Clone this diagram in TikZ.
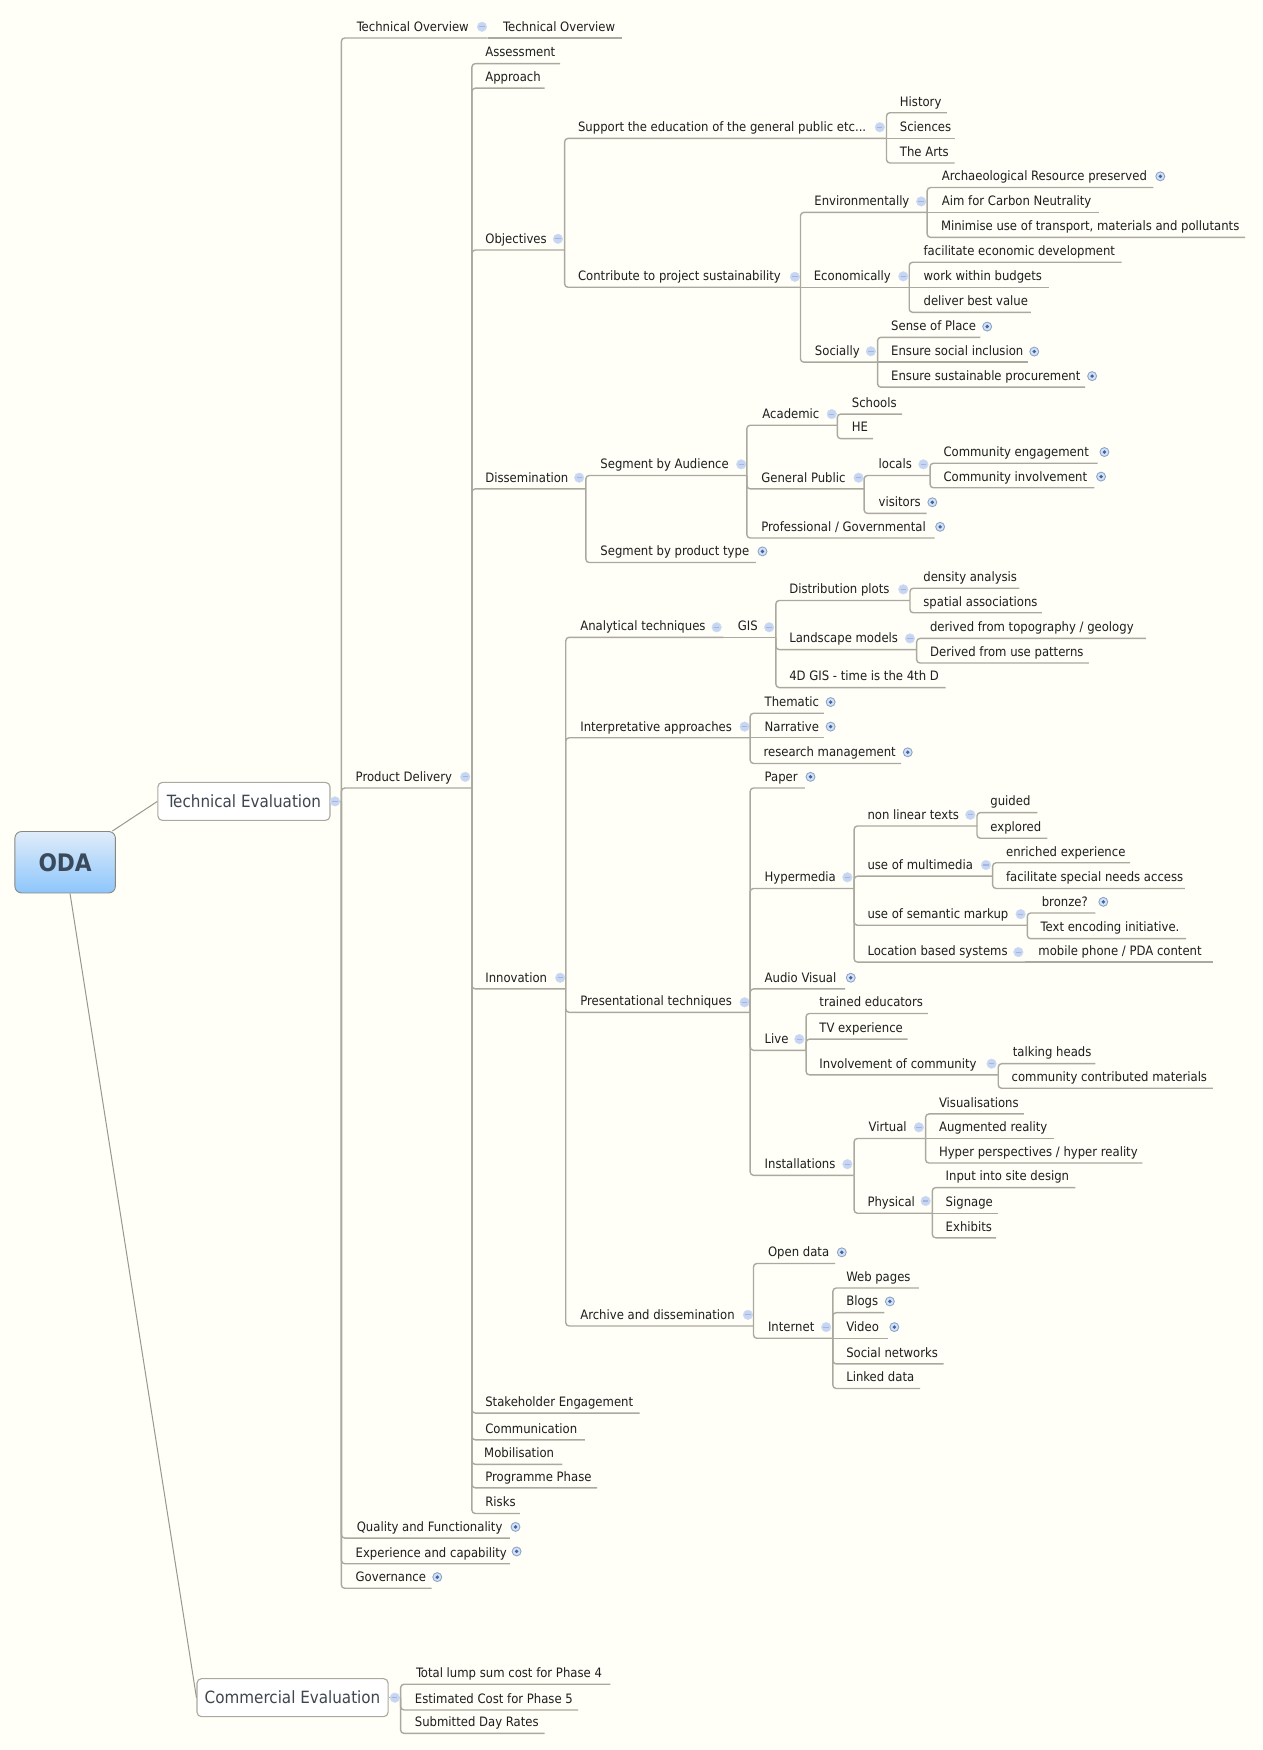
\documentclass[tikz,border=0pt]{standalone}
\usepackage{fontspec}
\setmainfont{DejaVu Sans Condensed}
\definecolor{bgc}{HTML}{FFFFF8}
\definecolor{linec}{HTML}{A9A99F}
\definecolor{txtc}{HTML}{1E1E1E}
\definecolor{headc}{HTML}{3F4650}
\definecolor{rootc}{HTML}{3A4A5C}
\definecolor{minusc}{HTML}{C6D6F2}
\definecolor{minusd}{HTML}{A4B6DC}
\definecolor{plusc}{HTML}{D5E2F3}
\definecolor{plusd}{HTML}{8CA4C8}
\definecolor{plusk}{HTML}{3F64A6}
\definecolor{rootT}{HTML}{E0ECFA}
\definecolor{rootB}{HTML}{8DC6FB}
\tikzset{
  conn/.style={draw=linec,line width=1.25pt},
  rnd/.style={conn,rounded corners=3pt},
  flat/.style={conn},
  topic/.style={inner sep=0pt,outer sep=0pt,anchor=south west,text=txtc,font=\fontsize{11.6}{13}\selectfont},
  headbox/.style={draw=linec,line width=1pt,fill=white,rounded corners=4pt,inner sep=0pt,text=headc,font=\fontsize{15.1}{18}\selectfont},
  rootbox/.style={draw=linec!80!black,line width=.8pt,rounded corners=6pt,inner sep=0pt,top color=rootT,bottom color=rootB,text=rootc,font=\bfseries\fontsize{21.6}{24}\selectfont},
  icominus/.style={circle,inner sep=0pt,minimum size=8.6pt,fill=minusc,draw=minusc!85!white,line width=.4pt},
  icoplus/.style={circle,inner sep=0pt,minimum size=8pt,fill=plusc,draw=plusd,line width=.8pt},
}
% style, id, parent, bar x, text x, line y, line end x, text
\newcommand\tpc[8]{%
  \pgfmathsetmacro\tpcw{#7-#4}\pgfmathsetmacro\tpcd{#5-#4}%
  \node[topic] (#2) at (#4,#6) {\makebox[\tpcw pt][l]{\hspace{\tpcd pt}\rule[-6pt]{0pt}{17pt}#8}};
  \draw[#1] (#3.south east) |- (#2.south east);
}
\newcommand\icoM[3]{\node[icominus] (#1) at (#2,#3) {}; \fill[minusd] (#2-2.4,#3-.5) rectangle (#2+2.4,#3+.5);}
\newcommand\icoP[3]{\node[icoplus] (#1) at (#2,#3) {}; \fill[plusk] (#2,#3) circle (1.7pt);}
\begin{document}
\begin{tikzpicture}[x=1pt,y=-0.9988pt]
\fill[bgc] (0,0) rectangle (1130.2,1567.9);
\useasboundingbox (0,0) rectangle (1130.2,1567.9);
\begin{scope}[xshift=-0.7pt]
% roots
\node[rootbox,minimum width=90pt,minimum height=55pt] (oda) at (59,772.5) {ODA};
\node[headbox,minimum width=154pt,minimum height=34pt] (te) at (219,718) {Technical Evaluation};
\node[headbox,minimum width=171pt,minimum height=34pt] (ce) at (262.5,1521) {Commercial Evaluation};
\draw[draw=linec!90!black,line width=.9pt] (oda) -- (te.west);
\draw[draw=linec!90!black,line width=.9pt] (oda) -- (ce.west);
\node[inner sep=0pt,minimum size=0pt] (teb) at (306,718) {};
\node[inner sep=0pt,minimum size=0pt] (ceb) at (359,1521) {};
\draw[conn] (te.east) -- (teb);
\draw[conn] (ce.east) -- (ceb);
\icoM{ite}{300.5}{718}
\icoM{ice}{354}{1521}
% level 1
\tpc{rnd}{to}{teb}{306}{320}{34}{437}{Technical Overview}
\tpc{flat}{tob}{to}{437}{451}{34}{557}{Technical Overview}
\tpc{rnd}{pd}{teb}{306}{319}{706}{423}{Product Delivery}
\tpc{rnd}{qf}{teb}{306}{320}{1378}{457}{Quality and Functionality}
\tpc{rnd}{ec}{teb}{306}{319}{1401}{457}{Experience and capability}
\tpc{rnd}{gv}{teb}{306}{319}{1423}{387}{Governance}
\icoM{ito}{432}{24}\icoM{ipd}{417}{696}\icoP{iqf}{462}{1368}\icoP{iec}{463}{1390}\icoP{igv}{392}{1413}
% product delivery
\tpc{rnd}{as}{pd}{423}{435}{57}{502}{Assessment}
\tpc{rnd}{ap}{pd}{423}{435}{79}{488}{Approach}
\tpc{rnd}{ob}{pd}{423}{435}{224}{506}{Objectives}
\tpc{rnd}{di}{pd}{423}{435}{438}{525}{Dissemination}
\tpc{rnd}{in}{pd}{423}{435}{886}{507}{Innovation}
\tpc{rnd}{se}{pd}{423}{435}{1266}{573}{Stakeholder Engagement}
\tpc{rnd}{co}{pd}{423}{435}{1290}{524}{Communication}
\tpc{rnd}{mo}{pd}{423}{434}{1312}{504}{Mobilisation}
\tpc{rnd}{pp}{pd}{423}{435}{1333}{535}{Programme Phase}
\tpc{rnd}{ri}{pd}{423}{435}{1356}{466}{Risks}
\icoM{iob}{500}{214}\icoM{idi}{519}{428}\icoM{iin}{502}{876}
% objectives
\tpc{rnd}{su}{ob}{506}{518}{124}{794}{Support the education of the general public etc...}
\tpc{rnd}{cp}{ob}{506}{518}{257.4}{717}{Contribute to project sustainability}
\icoM{isu}{788}{114}\icoM{icp}{712}{248}
\tpc{rnd}{hi}{su}{794}{806}{101}{848}{History}
\tpc{flat}{sc}{su}{794}{806}{124}{855}{Sciences}
\tpc{rnd}{ar}{su}{794}{806}{146}{855}{The Arts}
\tpc{rnd}{env}{cp}{717}{729.5}{190.3}{830.4}{Environmentally}
\tpc{flat}{eco}{cp}{717}{729}{257.4}{814.3}{Economically}
\tpc{rnd}{soc}{cp}{717}{730}{324.5}{786}{Socially}
\icoM{ienv}{825}{180.5}\icoM{ieco}{809}{247.6}\icoM{isoc}{780}{314.7}
\tpc{rnd}{arc}{env}{830.4}{843.6}{168}{1032.7}{Archaeological Resource preserved}
\tpc{flat}{aim}{env}{830.4}{843.6}{190.3}{984.4}{Aim for Carbon Neutrality}
\tpc{rnd}{min}{env}{830.4}{842.8}{212.7}{1115}{Minimise use of transport, materials and pollutants}
\icoP{iarc}{1039}{158}
\tpc{rnd}{fac}{eco}{814.3}{827.2}{235}{1004.3}{facilitate economic development}
\tpc{flat}{wor}{eco}{814.3}{827.2}{257.4}{939.6}{work within budgets}
\tpc{rnd}{del}{eco}{814.3}{827.2}{279.8}{923.2}{deliver best value}
\tpc{rnd}{sen}{soc}{786}{798.2}{302.2}{877.9}{Sense of Place}
\tpc{flat}{esi}{soc}{786}{798.2}{324.5}{920.2}{Ensure social inclusion}
\tpc{rnd}{esp}{soc}{786}{798.2}{346.9}{971.8}{Ensure sustainable procurement}
\icoP{isen}{884.1}{292.6}\icoP{iesi}{926.2}{315}\icoP{iesp}{978}{337}
% dissemination
\tpc{rnd}{sa}{di}{525}{538}{426}{669}{Segment by Audience}
\tpc{rnd}{sp}{di}{525}{538}{504}{677}{Segment by product type}
\icoM{isa}{664}{416}\icoP{isp}{683}{494}
\tpc{rnd}{aca}{sa}{669}{683}{381}{750}{Academic}
\tpc{rnd}{gp}{sa}{669}{682}{438}{774}{General Public}
\tpc{rnd}{pg}{sa}{669}{682}{482}{837}{Professional / Governmental}
\icoM{iaca}{745}{371}\icoM{igp}{769}{428}\icoP{ipg}{842}{472}
\tpc{rnd}{sch}{aca}{750}{763}{371}{808}{Schools}
\tpc{rnd}{he}{aca}{750}{763}{393}{782}{HE}
\tpc{rnd}{loc}{gp}{774}{787}{426}{833}{locals}
\tpc{rnd}{vis}{gp}{774}{787}{460}{830}{visitors}
\icoM{iloc}{827}{416}\icoP{ivis}{835}{450}
\tpc{rnd}{cen}{loc}{833}{845}{415}{983}{Community engagement}
\tpc{rnd}{cin}{loc}{833}{845}{437}{980}{Community involvement}
\icoP{icen}{989}{405}\icoP{icin}{986}{427}
% innovation
\tpc{rnd}{ant}{in}{507}{520}{571}{648}{Analytical techniques}
\tpc{flat}{gis}{ant}{648}{661}{571}{695}{GIS}
\tpc{rnd}{ina}{in}{507}{520}{661}{672}{Interpretative approaches}
\tpc{rnd}{prt}{in}{507}{520}{907}{672}{Presentational techniques}
\tpc{rnd}{aad}{in}{507}{520}{1188}{675}{Archive and dissemination}
\icoM{iant}{642}{562}\icoM{igis}{689}{562}\icoM{iina}{667}{651}\icoM{iprt}{667}{898}\icoM{iaad}{670}{1178}
\tpc{rnd}{dp}{gis}{695}{707}{538}{815}{Distribution plots}
\tpc{rnd}{lm}{gis}{695}{707}{582}{821}{Landscape models}
\tpc{rnd}{gd}{gis}{695}{707}{616}{847}{4D GIS - time is the 4th D}
\icoM{idp}{809}{528}\icoM{ilm}{815}{572}
\tpc{rnd}{den}{dp}{815}{827}{527}{913}{density analysis}
\tpc{rnd}{spa}{dp}{815}{827}{549}{933}{spatial associations}
\tpc{rnd}{der}{lm}{821}{833}{572}{1026}{derived from topography / geology}
\tpc{rnd}{dup}{lm}{821}{833}{594}{975}{Derived from use patterns}
\tpc{rnd}{the}{ina}{672}{685}{639}{738}{Thematic}
\tpc{flat}{nar}{ina}{672}{685}{661}{738}{Narrative}
\tpc{rnd}{res}{ina}{672}{684}{684}{807}{research management}
\icoP{ithe}{744}{629}\icoP{inar}{744}{651}\icoP{ires}{813}{674}
\tpc{rnd}{pap}{prt}{672}{685}{706}{721}{Paper}
\tpc{rnd}{hyp}{prt}{672}{685}{796}{765}{Hypermedia}
\tpc{rnd}{av}{prt}{672}{685}{886}{757}{Audio Visual}
\tpc{rnd}{liv}{prt}{672}{685}{941}{722}{Live}
\tpc{rnd}{ins}{prt}{672}{685}{1053}{765}{Installations}
\icoP{ipap}{726}{696}\icoM{ihyp}{759}{786}\icoP{iav}{762}{876}\icoM{iliv}{716}{931}\icoM{iins}{759}{1043}
\tpc{rnd}{nlt}{hyp}{765}{777}{740}{875}{non linear texts}
\tpc{rnd}{mul}{hyp}{765}{777}{785}{889}{use of multimedia}
\tpc{rnd}{sem}{hyp}{765}{777}{829}{920}{use of semantic markup}
\tpc{rnd}{lbs}{hyp}{765}{777}{862}{918}{Location based systems}
\tpc{flat}{mob}{lbs}{918}{930}{862}{1086}{mobile phone / PDA content}
\icoM{inlt}{869}{730}\icoM{imul}{883}{775}\icoM{isem}{914}{819}\icoM{ilbs}{912}{853}
\tpc{rnd}{gui}{nlt}{875}{887}{728}{929}{guided}
\tpc{rnd}{exp}{nlt}{875}{887}{751}{938}{explored}
\tpc{rnd}{enr}{mul}{889}{901}{773}{1012}{enriched experience}
\tpc{rnd}{fsn}{mul}{889}{901}{796}{1061}{facilitate special needs access}
\tpc{rnd}{bro}{sem}{920}{933}{818}{981}{bronze?}
\tpc{rnd}{tei}{sem}{920}{932}{841}{1062}{Text encoding initiative.}
\icoP{ibro}{988}{808}
\tpc{rnd}{tre}{liv}{722}{734}{908}{831}{trained educators}
\tpc{rnd}{tve}{liv}{722}{734}{931}{813}{TV experience}
\tpc{rnd}{ioc}{liv}{722}{734}{963}{894}{Involvement of community}
\icoM{iioc}{888}{953}
\tpc{rnd}{tal}{ioc}{894}{907}{953}{981}{talking heads}
\tpc{rnd}{ccm}{ioc}{894}{906}{975}{1086}{community contributed materials}
\tpc{rnd}{vir}{ins}{765}{778}{1020}{829}{Virtual}
\tpc{rnd}{phy}{ins}{765}{777}{1087}{835}{Physical}
\icoM{ivir}{823}{1010}\icoM{iphy}{829}{1076}
\tpc{rnd}{vsl}{vir}{829}{841}{998}{917}{Visualisations}
\tpc{flat}{aug}{vir}{829}{841}{1020}{944}{Augmented reality}
\tpc{rnd}{hpe}{vir}{829}{841}{1042}{1023}{Hyper perspectives / hyper reality}
\tpc{rnd}{isd}{phy}{835}{847}{1064}{963}{Input into site design}
\tpc{flat}{sig}{phy}{835}{847}{1087}{894}{Signage}
\tpc{rnd}{exh}{phy}{835}{847}{1109}{892}{Exhibits}
\tpc{rnd}{opd}{aad}{675}{688}{1132}{748}{Open data}
\tpc{rnd}{int}{aad}{675}{688}{1199}{746}{Internet}
\icoP{iopd}{754}{1122}\icoM{iint}{740}{1189}
\tpc{rnd}{web}{int}{746}{758}{1154}{823}{Web pages}
\tpc{rnd}{blo}{int}{746}{758}{1176}{792}{Blogs}
\tpc{flat}{vid}{int}{746}{758}{1199}{795}{Video}
\tpc{rnd}{son}{int}{746}{758}{1222}{845}{Social networks}
\tpc{rnd}{lin}{int}{746}{758}{1244}{824}{Linked data}
\icoP{iblo}{797}{1166}\icoP{ivid}{801}{1189}
% commercial
\tpc{rnd}{tls}{ceb}{359}{373}{1509}{547}{Total lump sum cost for Phase 4}
\tpc{rnd}{est}{ceb}{359}{372}{1532}{518}{Estimated Cost for Phase 5}
\tpc{rnd}{sdr}{ceb}{359}{372}{1553}{488}{Submitted Day Rates}
\end{scope}
\end{tikzpicture}
\end{document}
